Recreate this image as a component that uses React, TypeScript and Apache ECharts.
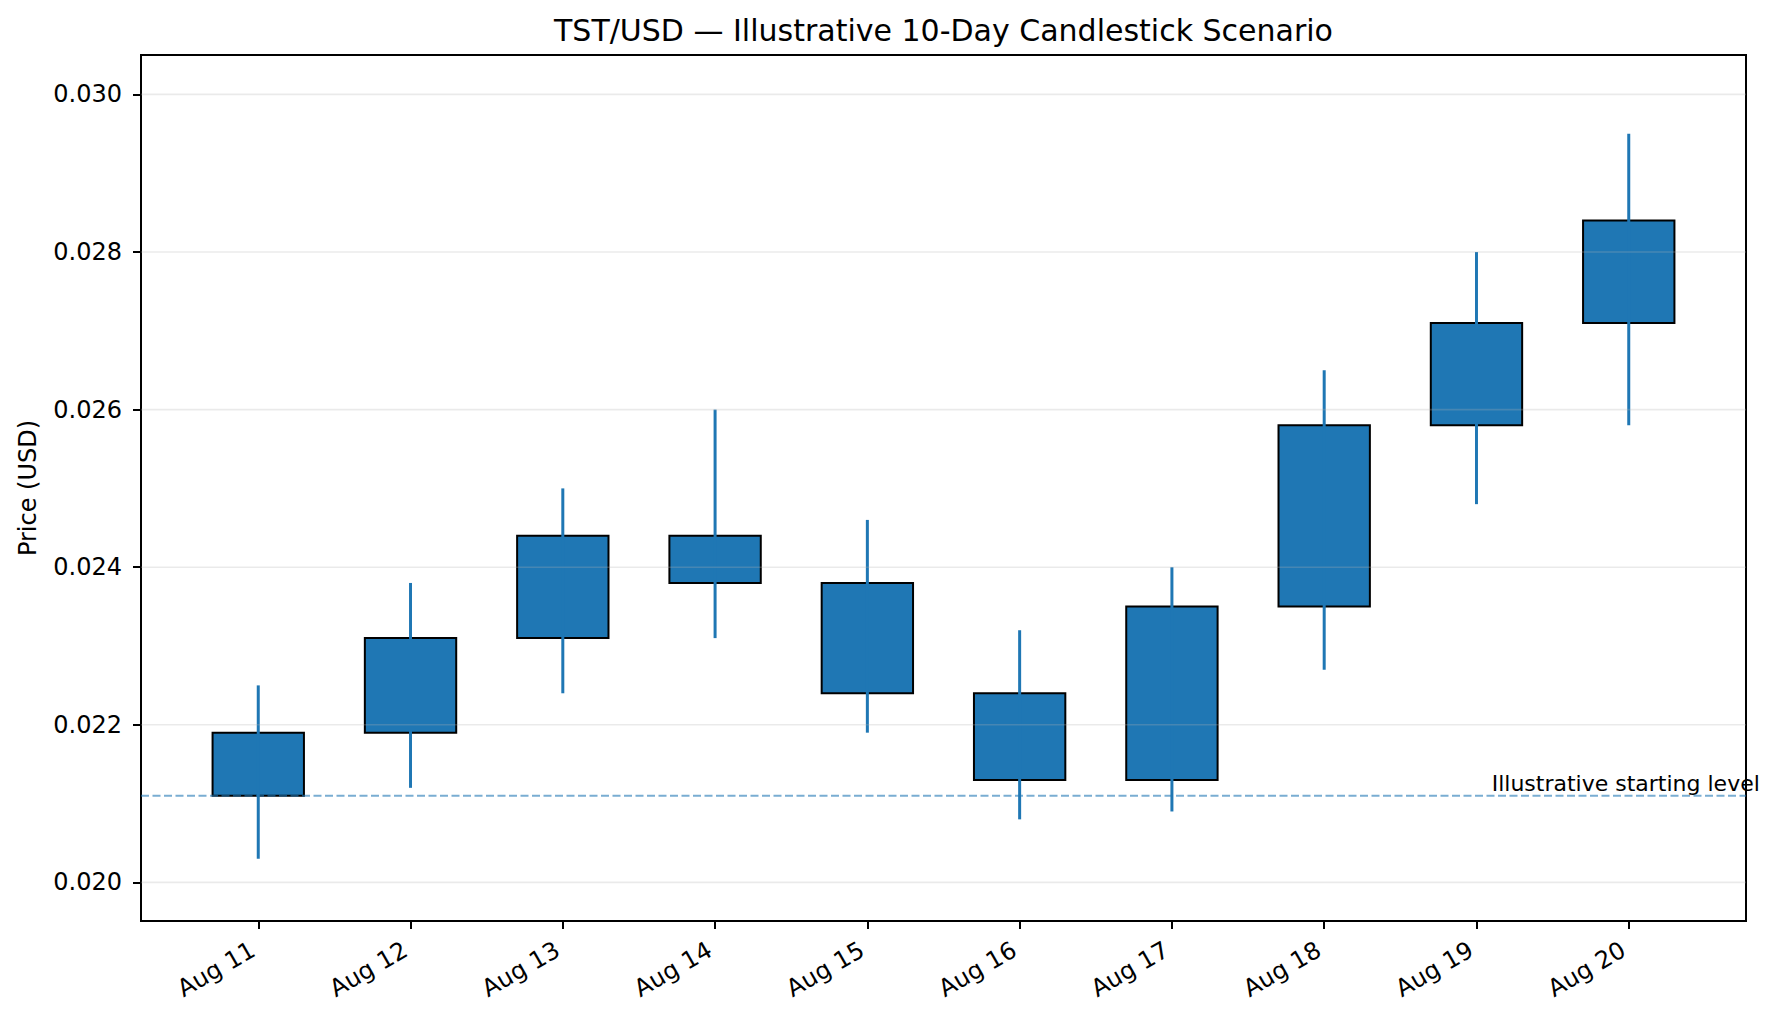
import React, { useEffect, useRef } from "react";
import * as echarts from "echarts";

const dates = ["Aug 11", "Aug 12", "Aug 13", "Aug 14", "Aug 15", "Aug 16", "Aug 17", "Aug 18", "Aug 19", "Aug 20"];
const opens = [0.0211, 0.0219, 0.0231, 0.0244, 0.0238, 0.0224, 0.0213, 0.0235, 0.0258, 0.0271];
const closes = [0.0219, 0.0231, 0.0244, 0.0238, 0.0224, 0.0213, 0.0235, 0.0258, 0.0271, 0.0284];
const lows = [0.0203, 0.0212, 0.0224, 0.0231, 0.0219, 0.0208, 0.0209, 0.0227, 0.0248, 0.0258];
const highs = [0.0225, 0.0238, 0.025, 0.026, 0.0246, 0.0232, 0.024, 0.0265, 0.028, 0.0295];
const yTicks = [0.02, 0.022, 0.024, 0.026, 0.028, 0.03];
const startLevel = 0.0211;
const startLabel = "Illustrative starting level";
const startLabelX = 8.1;
const titleText = "TST/USD \u2014 Illustrative 10-Day Candlestick Scenario";
const yName = "Price (USD)";

const X_MIN = -0.77;
const X_MAX = 9.77;
const Y_MIN = 0.01951;
const Y_MAX = 0.0305;
const FONT = "DejaVu Sans";
const BLUE = "#1f77b4";

export default function App() {
  const ref = useRef<HTMLDivElement>(null);
  useEffect(() => {
    document.body.style.margin = "0";
    const chart = echarts.init(ref.current!, null, { renderer: "svg" });
    const candleData = dates.map((_, i) => [i, opens[i], closes[i], lows[i], highs[i]]);
    const xIdx = dates.map((_, i) => i);
    const option: any = {
      animation: false,
      backgroundColor: "#fff",
      textStyle: { fontFamily: FONT },
      grid: {
        left: 141,
        top: 55,
        right: 38,
        bottom: 101,
        show: true,
        borderColor: "#000",
        borderWidth: 2,
        backgroundColor: "transparent",
      },
      graphic: [
        {
          type: "text",
          x: 943.5,
          y: 30,
          style: {
            text: titleText,
            fontSize: 30,
            fontFamily: FONT,
            fill: "#000",
            align: "center",
            verticalAlign: "middle",
          },
        },
      ],
      xAxis: {
        type: "value",
        min: X_MIN,
        max: X_MAX,
        splitLine: { show: false },
        axisLine: { show: true, onZero: false, lineStyle: { color: "#000", width: 2 } },
        axisTick: { show: true, customValues: xIdx, length: 8, lineStyle: { color: "#000", width: 2 } },
        axisLabel: {
          customValues: xIdx,
          formatter: (v: number) => dates[Math.round(v)],
          rotate: 30,
          fontSize: 24,
          color: "#000",
          margin: 24,
          padding: [0, 6, 0, 0],
          fontFamily: FONT,
        },
      },
      yAxis: {
        type: "value",
        min: Y_MIN,
        max: Y_MAX,
        name: yName,
        nameLocation: "middle",
        nameGap: 101,
        nameRotate: 90,
        nameTextStyle: { fontSize: 24, color: "#000", fontFamily: FONT },
        splitLine: { show: false },
        axisLine: { show: true, onZero: false, lineStyle: { color: "#000", width: 2 } },
        axisTick: { show: true, customValues: yTicks, length: 8, lineStyle: { color: "#000", width: 2 } },
        axisLabel: {
          customValues: yTicks,
          formatter: (v: number) => v.toFixed(3),
          fontSize: 24,
          color: "#000",
          margin: 19,
          fontFamily: FONT,
        },
      },
      series: [
        {
          type: "custom",
          z: 2,
          data: candleData,
          renderItem: (params: any, api: any) => {
            const x = api.value(0);
            const o = api.value(1);
            const c = api.value(2);
            const lo = api.value(3);
            const hi = api.value(4);
            const w = api.size([0.6, 0])[0];
            const pTop = api.coord([x, Math.max(o, c)]);
            const pBot = api.coord([x, Math.min(o, c)]);
            const pHi = api.coord([x, hi]);
            const pLo = api.coord([x, lo]);
            return {
              type: "group",
              children: [
                {
                  type: "rect",
                  shape: { x: pTop[0] - w / 2, y: pTop[1], width: w, height: pBot[1] - pTop[1] },
                  style: { fill: BLUE, stroke: "#000", lineWidth: 2 },
                },
                {
                  type: "line",
                  shape: { x1: pHi[0], y1: pHi[1], x2: pLo[0], y2: pLo[1] },
                  style: { stroke: BLUE, lineWidth: 3 },
                },
              ],
            };
          },
        },
        {
          type: "custom",
          z: 3,
          data: [[startLevel]],
          renderItem: (params: any, api: any) => {
            const v = api.value(0);
            const a = api.coord([X_MIN, v]);
            const b = api.coord([X_MAX, v]);
            return {
              type: "line",
              shape: { x1: a[0], y1: a[1], x2: b[0], y2: b[1] },
              style: { stroke: "rgba(31,119,180,0.6)", lineWidth: 2, lineDash: [8, 3.5] },
            };
          },
        },
        {
          type: "custom",
          z: 4,
          data: yTicks.map((v) => [v]),
          renderItem: (params: any, api: any) => {
            const v = api.value(0);
            const a = api.coord([X_MIN, v]);
            const b = api.coord([X_MAX, v]);
            return {
              type: "line",
              shape: { x1: a[0], y1: a[1], x2: b[0], y2: b[1] },
              style: { stroke: "rgba(176,176,176,0.27)", lineWidth: 1.6 },
            };
          },
        },
        {
          type: "custom",
          z: 5,
          data: [[startLabelX, startLevel]],
          renderItem: (params: any, api: any) => {
            const p = api.coord([api.value(0), api.value(1)]);
            return {
              type: "text",
              x: p[0],
              y: p[1] - 1,
              style: {
                text: startLabel,
                fontSize: 22,
                fontFamily: FONT,
                fill: "#000",
                align: "left",
                verticalAlign: "bottom",
              },
            };
          },
        },
      ],
    };
    chart.setOption(option);
    return () => chart.dispose();
  }, []);
  return <div ref={ref} style={{ width: 1784, height: 1022 }} />;
}
